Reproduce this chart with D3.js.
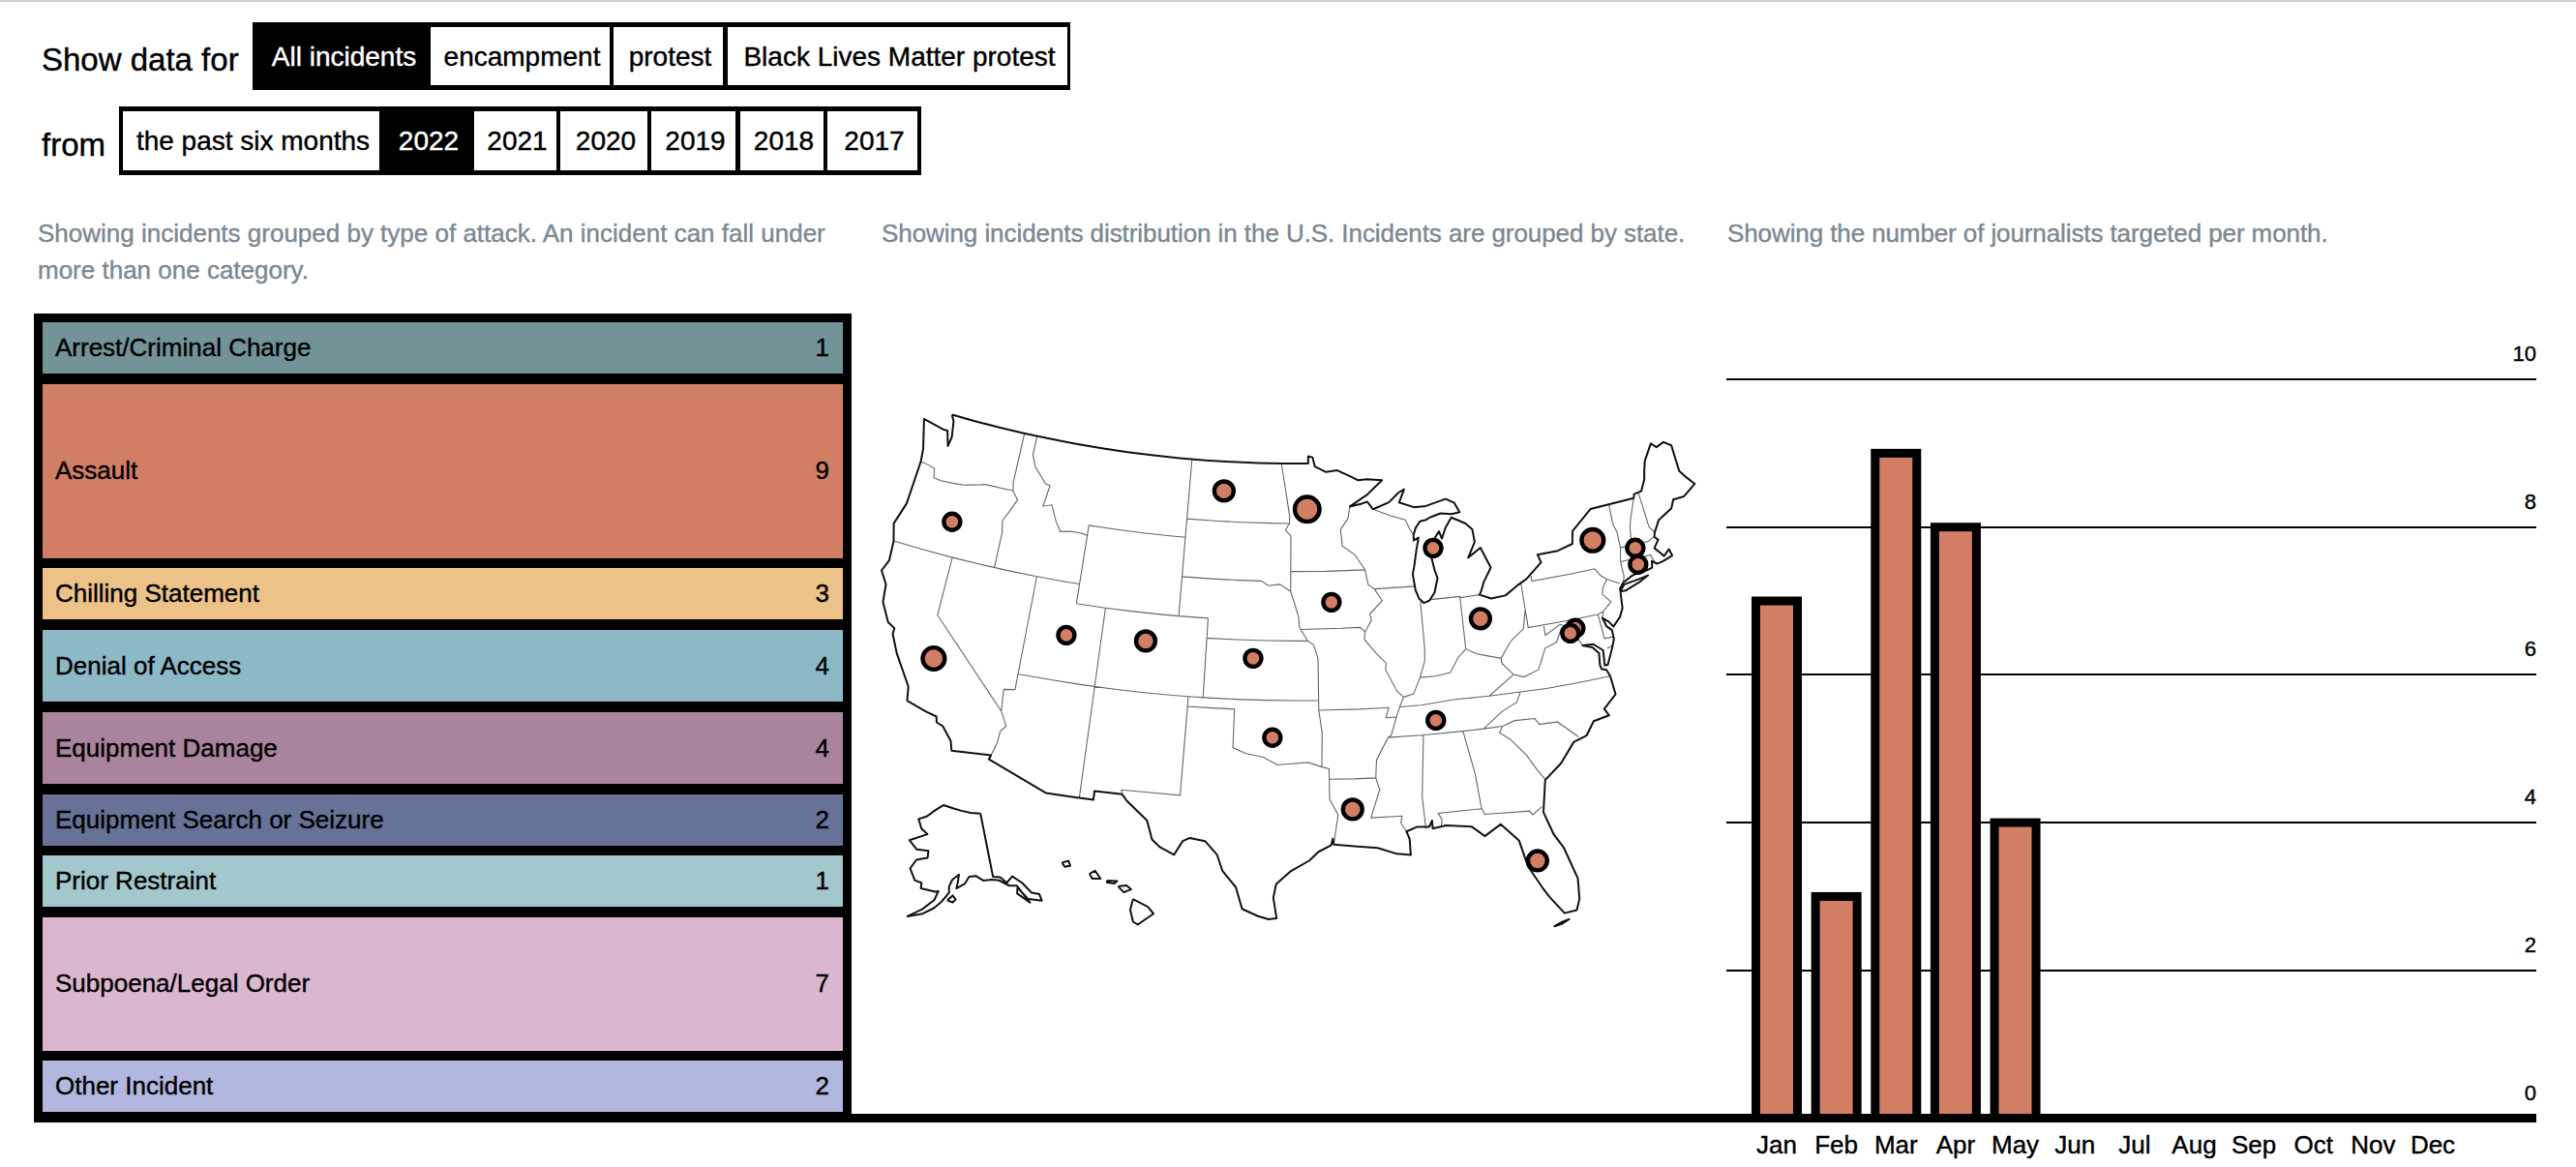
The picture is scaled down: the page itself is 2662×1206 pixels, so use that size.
<!DOCTYPE html>
<html>
<head>
<meta charset="utf-8">
<title>Incidents dashboard</title>
<script src="https://cdn.jsdelivr.net/npm/d3@7"></script>
<style>
  html, body { margin: 0; padding: 0; background: #fff; }
  svg { display: block; }
  text { font-family: "Liberation Sans", Helvetica, Arial, sans-serif; }
</style>
</head>
<body>
<svg id="page" width="2662" height="1206"></svg>
<script>
// Filter menus
const incidentFilters = ["All incidents", "encampment", "protest", "Black Lives Matter protest"];
const timeFilters = ["the past six months", "2022", "2021", "2020", "2019", "2018", "2017"];
const activeIncidentFilter = "All incidents";
const activeTimeFilter = "2022";

// Incidents by type of attack
const attackTypes = ["Arrest/Criminal Charge", "Assault", "Chilling Statement", "Denial of Access", "Equipment Damage", "Equipment Search or Seizure", "Prior Restraint", "Subpoena/Legal Order", "Other Incident"];
const attackCounts = [1, 9, 3, 4, 4, 2, 1, 7, 2];
const attackColors = ["#729498", "#d27e65", "#ecc288", "#8db8c6", "#aa849c", "#667297", "#a2c7cd", "#dbb7cf", "#b1b7df"];

// Journalists targeted per month
const months = ["Jan", "Feb", "Mar", "Apr", "May", "Jun", "Jul", "Aug", "Sep", "Oct", "Nov", "Dec"];
const monthlyCounts = [7, 3, 9, 8, 4, 0, 0, 0, 0, 0, 0, 0];
const countTicks = [0, 2, 4, 6, 8, 10];

// Incidents by state, as [longitude, latitude, incidents]
const statePoints = [
  [-120.65, 43.74, 1], [-119.54, 36.84, 3], [-111.38, 39.35, 1], [-106.1, 39.59, 2],
  [-98.91, 39.09, 1], [-101.47, 47.49, 2], [-95.26, 46.66, 4], [-93.64, 41.93, 1],
  [-86.29, 44.34, 1], [-83.6, 40.52, 2], [-75.05, 43.43, 3], [-72.28, 42.55, 1],
  [-72.37, 41.71, 1], [-77.45, 39.27, 1], [-77.83, 39.07, 1], [-97.55, 35.12, 1],
  [-92.68, 31.46, 2], [-87.23, 35.68, 1], [-82.16, 28.01, 2]
];

// National outline in longitude and latitude
const coastLines = [
  [[-122.76,49],[-121,49],[-119,49],[-117,49],[-115,49],[-113,49],[-111,49],[-109,49],[-107,49],[-105,49],[-103,49],[-101,49],[-99,49],[-97.2,49],[-95.15,49],[-95.15,49.38],[-94.82,49.32],[-94.64,48.84],[-93.8,48.55],[-92.95,48.62],[-92,48.3],[-91.4,48.07],[-90.75,48.1],[-89.6,48],[-90.8,47.3],[-92.1,46.75],[-91.2,46.87],[-90.8,46.95],[-90.4,46.55],[-89.2,46.85],[-88.45,47.3],[-88,47.45],[-88.45,46.8],[-87.4,46.5],[-86.5,46.5],[-85,46.75],[-84.4,46.5],[-84.1,46],[-84.7,45.95],[-85.5,46.05],[-86.3,45.9],[-86.6,45.8],[-87.05,45.75],[-87.4,45.45],[-87.6,45.1],[-87.62,44.82],[-87.26,44.94],[-87.5,44.3],[-87.75,43.5],[-87.9,43.12],[-87.8,42.3],[-87.6,41.85],[-87.3,41.62],[-86.9,41.72],[-86.5,42.1],[-86.2,42.8],[-86.35,43.25],[-86.5,44],[-86.25,44.7],[-85.75,45.15],[-85.6,44.77],[-85.25,45.3],[-84.75,45.78],[-83.8,45.4],[-83.35,45.05],[-83.3,44.4],[-83.9,43.65],[-82.95,44.07],[-82.42,43],[-83.05,42.32],[-83.3,41.9],[-83.45,41.72],[-82.7,41.45],[-81.7,41.5],[-80.8,41.9],[-80.1,42.15],[-78.9,42.85],[-79.05,43.27],[-77.6,43.27],[-76.5,43.47],[-76.3,44.1],[-74.7,45],[-73.35,45.01],[-71.5,45.01],[-71.4,45.2],[-70.85,45.25],[-70.4,45.8],[-70.25,46.2],[-70,46.7],[-69.23,47.46],[-68.9,47.2],[-68.3,47.35],[-67.8,47.07],[-67.8,45.7],[-67.45,45.3],[-67,44.85],[-68,44.4],[-68.8,44.4],[-69.1,44],[-70.2,43.6],[-70.7,43.05],[-70.8,42.85],[-70.6,42.65],[-71,42.3],[-70.65,41.95],[-70.5,41.78],[-70.05,42.05],[-69.95,41.7],[-70.65,41.55],[-71.1,41.5],[-71.4,41.7],[-71.5,41.37],[-71.85,41.32],[-72.9,41.25],[-73.65,41],[-73.95,40.75],[-74,40.45],[-74.1,39.75],[-74.4,39.35],[-74.95,38.95],[-75.2,39.25],[-75.55,39.5],[-75.4,39.05],[-75.1,38.8],[-75.1,38.35],[-75.35,37.9],[-75.85,37.14],[-76.05,37.14],[-75.95,37.9],[-76.5,38.3],[-77.2,38.35],[-76.6,38.15],[-76.25,37.8],[-76.35,37.2],[-76.3,37],[-76,36.9],[-75.85,36.55],[-75.76,35.6],[-76.65,35],[-76.43,34.63],[-77.45,34.5],[-78.05,33.85],[-78.9,33.65],[-79.9,32.7],[-81,32],[-81.4,30.4],[-81,29.2],[-80.55,28.45],[-80.05,26.8],[-80.15,25.75],[-80.4,25.2],[-81.1,25.15],[-81.8,26.1],[-82.1,26.6],[-82.75,27.8],[-83.05,29.15],[-84,30.1],[-85,29.6],[-85.7,30.15],[-87.2,30.35],[-88,30.25],[-88,30.65],[-88.2,30.35],[-88.9,30.4],[-89.55,30.2],[-89.4,29.8],[-89.4,29],[-90.2,29.1],[-91.3,29.45],[-92.3,29.55],[-93.85,29.7],[-93.9,30],[-94,29.68],[-94.75,29.35],[-95.3,28.9],[-96.4,28.35],[-97.2,27.7],[-97.35,27],[-97.15,25.95],[-97.6,25.9],[-98.2,26.05],[-99.1,26.4],[-99.5,27.5],[-100.3,28.3],[-100.65,29.1],[-101.4,29.77],[-102.3,29.88],[-102.7,29.7],[-103.15,28.97],[-104,29.3],[-104.5,29.65],[-104.9,30.6],[-106.2,31.47],[-106.53,31.78],[-108.2,31.78],[-108.2,31.33],[-109.5,31.33],[-111.07,31.33],[-114.8,32.5],[-114.72,32.72],[-117.12,32.53],[-117.3,33],[-118,33.65],[-118.4,33.75],[-118.5,34.03],[-119.2,34.15],[-120.5,34.45],[-120.65,35.15],[-121.9,36.6],[-122.5,37.5],[-122.5,37.8],[-123,38],[-123.7,38.9],[-123.85,39.8],[-124.4,40.4],[-124.1,41],[-124.2,42],[-124.55,42.85],[-124.1,44],[-124,46.25],[-124.1,46.9],[-124.7,48.38],[-123.1,48.15],[-122.75,48.15],[-122.4,47.4],[-122.3,47.9],[-122.5,48.7],[-122.76,49]],
  [[-74,40.6],[-73.6,40.58],[-72.5,40.85],[-71.9,41.05],[-72.6,40.98],[-73.6,40.9],[-74,40.6]],
  [[-81.8,24.55],[-81.3,24.72],[-80.9,24.8],[-81.35,24.62],[-81.8,24.55]],
  [[-141,69.65],[-145,70],[-149,70.5],[-152,70.85],[-156.5,71.35],[-160,70.5],[-163,69.5],[-166.2,68.9],[-164.5,67.6],[-162,66.9],[-164,66.5],[-168,65.6],[-165,64.5],[-161,64.5],[-161,63.5],[-164.5,63],[-166,61.6],[-164,60],[-162,59.8],[-162,59],[-158,58.7],[-157,58.8],[-158,57.5],[-161,56],[-164.5,54.7],[-161,55.3],[-158,56.3],[-156,57.3],[-154,58.6],[-154,59.5],[-153,60.5],[-151,61.2],[-151.5,60],[-151.9,59.2],[-149.5,59.8],[-148,60.8],[-146,60.8],[-144,60],[-141.5,59.9],[-139.5,59.6],[-137,58.5],[-135,58.2],[-133.5,56],[-130,55],[-130,56],[-131.8,56.6],[-133.4,58.4],[-135.5,59.7],[-137.5,59],[-139,60],[-141,60.3],[-141,69.65]],
  [[-154.5,57.5],[-153,57.2],[-152.2,57.6],[-153,58.2],[-154.5,57.5]],
  [[-135,57.9],[-133.5,56.3],[-133,55.3],[-135.5,57.1],[-135,57.9]],
  [[-155.9,20.25],[-155.1,19.85],[-154.8,19.5],[-155.65,18.95],[-155.9,19.1],[-156.05,19.7],[-155.9,20.25]],
  [[-156.7,20.9],[-156.25,20.95],[-156,20.75],[-156.4,20.6],[-156.7,20.9]],
  [[-157.3,21.2],[-156.75,21.18],[-156.9,21.05],[-157.3,21.1],[-157.3,21.2]],
  [[-158.25,21.55],[-157.95,21.7],[-157.65,21.3],[-158.1,21.3],[-158.25,21.55]],
  [[-159.75,22.1],[-159.4,22.2],[-159.3,21.95],[-159.6,21.9],[-159.75,22.1]]
];

// State lines in longitude and latitude
const stateLines = [
  [[-124,46.25],[-123.4,46.2],[-122.9,46.1],[-122.75,45.65],[-122.2,45.6],[-121.2,45.65],[-120.5,45.7],[-119.3,45.93],[-118.98,46],[-116.92,46]],
  [[-117.03,49],[-117.04,46.42],[-116.92,46],[-116.46,45.6],[-116.85,44.95],[-117.2,44.4],[-117.03,43.8],[-117.03,42]],
  [[-124.2,42],[-122,42],[-120,42],[-118,42],[-116,42],[-114.04,42],[-112,42],[-111.05,42]],
  [[-120,42],[-120,39],[-114.63,35],[-114.15,34.3],[-114.45,34],[-114.5,33.4],[-114.72,32.72]],
  [[-114.63,35],[-114.75,36.1],[-114.04,36.2],[-114.04,37],[-114.04,42]],
  [[-116.05,49],[-116.05,48],[-115.7,47.45],[-114.7,46.7],[-114.35,46.65],[-114.55,45.55],[-113.95,45.7],[-113.45,44.95],[-113,44.45],[-112.3,44.55],[-111.5,44.55],[-111.05,44.48],[-111.05,42],[-111.05,41]],
  [[-111.05,44.48],[-111.05,45],[-109,45],[-107,45],[-105,45],[-104.05,45]],
  [[-111.05,41],[-109.05,41],[-107,41],[-105,41],[-104.05,41],[-102.05,41]],
  [[-109.05,41],[-109.05,37],[-109.05,35],[-109.05,33],[-109.05,31.33]],
  [[-114.04,37],[-112,37],[-110,37],[-108,37],[-106,37],[-104,37],[-103,37],[-102,37],[-100,37],[-98,37],[-96,37],[-94.62,37]],
  [[-103,37],[-103,36.5],[-103.05,32],[-106.6,32],[-106.53,31.78]],
  [[-103,36.5],[-101.5,36.5],[-100,36.5],[-100,34.56],[-99.2,34.3],[-98.1,34.13],[-97.2,33.75],[-96.5,33.8],[-95.3,33.88],[-94.48,33.64],[-94.04,33.55],[-94.04,33.02],[-94.04,32],[-93.55,31.2],[-93.7,30.5],[-93.85,29.7]],
  [[-94.62,39.1],[-94.62,37],[-94.62,36.5],[-94.43,35.4],[-94.48,33.64]],
  [[-94.62,36.5],[-92,36.5],[-90.15,36.5],[-90.37,36],[-89.7,36],[-90.1,35.1],[-90.3,35],[-90.6,34.6],[-91.1,33.9],[-91.2,33],[-91,32.4],[-91.6,31],[-89.75,31],[-89.85,30.65],[-89.55,30.2]],
  [[-102.05,41],[-102.05,40],[-102.05,37]],
  [[-102.05,40],[-100,40],[-98,40],[-96,40],[-95.3,40],[-94.9,39.8],[-94.62,39.1]],
  [[-104.05,49],[-104.05,45.94],[-104.05,45],[-104.05,43],[-104.05,41]],
  [[-104.05,45.94],[-102,45.94],[-100,45.94],[-98,45.94],[-96.56,45.94]],
  [[-104.05,43],[-102,43],[-100,43],[-98.5,43],[-98,42.77],[-97.2,42.85],[-96.45,42.49]],
  [[-97.2,49],[-96.85,47.6],[-96.55,46.3],[-96.56,45.94],[-96.85,45.6],[-96.45,45.3],[-96.45,43.5],[-96.45,42.49],[-96.1,41.7],[-95.9,41.2],[-95.85,40.7],[-95.3,40]],
  [[-96.45,43.5],[-94,43.5],[-91.22,43.5]],
  [[-95.77,40.58],[-93,40.6],[-91.73,40.61],[-91.42,40.38]],
  [[-92.1,46.75],[-92.3,46.1],[-92.85,45.6],[-92.75,44.75],[-91.9,44.3],[-91.22,43.5],[-91.05,42.75],[-90.64,42.51],[-90.15,41.9],[-91.05,41.25],[-90.95,40.95],[-91.42,40.38],[-91.5,40],[-90.75,39.25],[-90.15,38.75],[-90.2,38.4],[-89.55,37.3],[-89.15,36.98],[-89.45,36.5],[-89.7,36]],
  [[-90.64,42.51],[-87.8,42.5]],
  [[-90.4,46.55],[-89.1,46.15],[-88.1,45.9],[-87.8,45.35],[-87.6,45.1]],
  [[-87.53,41.7],[-87.53,39.35],[-87.6,38.7],[-88,37.9],[-88.5,37.1],[-89.15,36.98]],
  [[-86.82,41.76],[-84.8,41.76],[-84.8,41.7],[-83.45,41.72]],
  [[-84.8,41.7],[-84.82,39.1]],
  [[-88,37.9],[-87,37.9],[-86,38],[-85.4,38.7],[-84.82,39.1],[-84.2,38.8],[-83.6,38.65],[-82.6,38.4],[-82,39],[-81.7,39.25],[-80.85,39.7],[-80.52,40.64],[-80.52,42]],
  [[-79.76,42.27],[-79.76,42],[-77,42],[-75.35,42],[-75.05,41.6],[-74.7,41.36],[-73.9,41]],
  [[-74.7,41.36],[-75.1,40.95],[-75.2,40.65],[-74.75,40.2],[-75.4,39.8],[-75.55,39.5]],
  [[-80.52,40.64],[-80.52,39.72],[-78,39.72],[-75.79,39.72],[-75.42,39.8]],
  [[-79.48,39.72],[-79.48,39.2],[-78.4,39.6],[-77.72,39.32],[-77.2,38.35]],
  [[-77.72,39.32],[-78.35,39.4],[-78.85,38.75],[-79.65,38.55],[-80.3,37.55],[-81.3,37.3],[-81.95,37.5],[-82.6,38.15],[-82.6,38.4]],
  [[-81.95,37.5],[-83.68,36.6],[-86,36.63],[-88.05,36.5],[-89.45,36.5]],
  [[-75.87,36.55],[-78,36.55],[-80,36.55],[-81.68,36.59],[-83.68,36.6]],
  [[-75.79,39.72],[-75.7,38.46],[-75.05,38.45]],
  [[-75.65,37.95],[-75.25,38.03]],
  [[-90.3,35],[-88.2,35],[-85.6,35],[-84.3,35],[-83.1,35]],
  [[-81.68,36.59],[-82,36.1],[-83,35.75],[-84.3,35]],
  [[-94.04,33.02],[-92.5,33],[-91.2,33]],
  [[-83.1,35],[-82.3,35.2],[-81.05,35.15],[-80.8,34.82],[-79.68,34.8],[-78.55,33.86]],
  [[-83.1,35],[-83.35,34.7],[-82.75,34.3],[-81.9,33.4],[-81.4,32.6],[-81,32.05]],
  [[-88.2,35],[-88.1,34.9],[-88.47,31.9],[-88.4,30.25]],
  [[-85.6,35],[-85.15,32.8],[-85.05,31.55],[-85,31]],
  [[-85,31],[-87.6,31],[-87.4,30.65],[-87.5,30.3]],
  [[-85,31],[-84.85,30.7],[-82.2,30.57],[-82.05,30.36],[-81.45,30.7]],
  [[-73.35,45.01],[-73.4,44],[-73.25,43.55],[-73.28,42.75],[-73.5,42.05],[-73.5,41.3],[-73.65,41]],
  [[-73.28,42.75],[-72.46,42.73],[-71.3,42.7],[-70.8,42.87]],
  [[-72.46,42.73],[-72.3,43.6],[-72.05,44.1],[-71.5,45.01]],
  [[-71.08,45.3],[-70.98,43.4],[-70.7,43.07]],
  [[-73.5,42.05],[-71.8,42.02],[-71.38,42.02],[-71.2,41.5]],
  [[-71.8,42.02],[-71.85,41.32]]
];

// Captions above the three panels
const captions = [
  ["Showing incidents grouped by type of attack. An incident can fall under", "more than one category."],
  ["Showing incidents distribution in the U.S. Incidents are grouped by state."],
  ["Showing the number of journalists targeted per month."]
];

const INK = "#000";
const svg = d3.select("#page");

// Rule along the top of the page
svg.append("rect").attr("width", 2662).attr("height", 2).attr("fill", "#cfcfcf");

// Filter menus: a black frame with white cells; the active cell stays black
function drawMenu(title, titleBaseline, options, active, frame, edges, baseline) {
  svg.append("text").attr("x", 43).attr("y", titleBaseline)
    .attr("font-size", 33).attr("fill", INK).text(title);
  svg.append("rect")
    .attr("x", frame[0]).attr("y", frame[1])
    .attr("width", frame[2] - frame[0]).attr("height", frame[3] - frame[1])
    .attr("fill", INK);
  const cells = svg.append("g").selectAll("g").data(options).join("g");
  cells.filter(d => d !== active).append("rect")
    .attr("x", d => edges[options.indexOf(d)][0])
    .attr("width", d => edges[options.indexOf(d)][1] - edges[options.indexOf(d)][0])
    .attr("y", frame[1] + 5).attr("height", frame[3] - frame[1] - 10)
    .attr("fill", "#fff");
  cells.append("text")
    .attr("x", (d, i) => (edges[i][0] + edges[i][1]) / 2 + (d === active && i === 0 ? 0 : 2))
    .attr("y", baseline)
    .attr("text-anchor", "middle")
    .attr("font-size", 28)
    .attr("fill", d => d === active ? "#fff" : INK)
    .text(d => d);
}
drawMenu("Show data for", 73, incidentFilters, activeIncidentFilter,
  [261, 23, 1106, 93], [[266, 445], [445, 630], [634, 747], [752, 1103]], 68);
drawMenu("from", 161, timeFilters, activeTimeFilter,
  [123, 110, 952, 181], [[127, 392], [392, 490], [490, 575], [579, 669], [673, 760], [765, 851], [855, 948]], 155);

// Captions
const captionX = [39, 911, 1785];
const captionTracking = [0, -0.07, -0.1];
captions.forEach((lines, c) => {
  svg.append("g").selectAll("text").data(lines).join("text")
    .attr("x", captionX[c])
    .attr("y", (d, i) => 250 + i * 38)
    .attr("font-size", 26).attr("fill", "#7b8994")
    .attr("letter-spacing", captionTracking[c])
    .text(d => d);
});

// Attack-type stack: row height follows the count, with a floor for small rows
const rowHeight = d3.scaleLinear().domain([4, 9]).range([74.5, 180]);
const rowFloor = 53, rowGap = 10.5;
svg.append("rect").attr("x", 35).attr("y", 324).attr("width", 845).attr("height", 836).attr("fill", INK);
let rowTop = 333;
const rows = attackTypes.map((name, i) => {
  const h = Math.max(rowFloor, rowHeight(attackCounts[i]));
  const row = { name, count: attackCounts[i], color: attackColors[i], y: rowTop, h };
  rowTop += h + rowGap;
  return row;
});
const rowGroups = svg.append("g").selectAll("g").data(rows).join("g")
  .attr("transform", d => `translate(44,${d.y})`);
rowGroups.append("rect").attr("width", 827).attr("height", d => d.h)
  .attr("fill", d => d.color).attr("shape-rendering", "crispEdges");
rowGroups.append("text").attr("x", 13).attr("y", d => d.h / 2 + 8.5)
  .attr("font-size", 26).attr("fill", INK).text(d => d.name);
rowGroups.append("text").attr("x", 813).attr("y", d => d.h / 2 + 8.5)
  .attr("text-anchor", "end").attr("font-size", 26).attr("fill", INK).text(d => d.count);

// Map
const projection = d3.geoAlbersUsa().scale(1165).translate([1331, 689]);
const geoPath = d3.geoPath(projection);
svg.append("path")
  .datum({ type: "MultiLineString", coordinates: stateLines })
  .attr("d", geoPath).attr("fill", "none").attr("stroke", "#666").attr("stroke-width", 1.1);
svg.append("path")
  .datum({ type: "MultiLineString", coordinates: coastLines })
  .attr("d", geoPath).attr("fill", "none").attr("stroke", "#111").attr("stroke-width", 2)
  .attr("stroke-linejoin", "round");

const dotRadius = d3.scaleLinear().domain([1, 4]).range([8.5, 12.8]);
svg.append("g").selectAll("circle").data(statePoints).join("circle")
  .attr("cx", d => projection(d)[0])
  .attr("cy", d => projection(d)[1])
  .attr("r", d => dotRadius(d[2]))
  .attr("fill", "#d27e65").attr("stroke", INK).attr("stroke-width", 4.4);

// Monthly bars
const xMonth = d3.scalePoint().domain(months).range([1836, 2514]);
const yCount = d3.scaleLinear().domain([0, 10]).range([1155.5, 392]);

const yAxis = svg.append("g").attr("transform", "translate(2621,0)")
  .call(d3.axisRight(yCount).tickValues(countTicks).tickSize(-837).offset(0));
yAxis.select(".domain").remove();
yAxis.selectAll("line").attr("stroke", INK).attr("stroke-width", 2).attr("shape-rendering", "crispEdges");
yAxis.selectAll("text")
  .attr("x", 0).attr("dy", -19).attr("text-anchor", "end")
  .attr("font-size", 22).attr("font-family", null).attr("fill", INK);

svg.append("g").selectAll("rect").data(months.map((m, i) => ({ m, v: monthlyCounts[i] })).filter(d => d.v > 0)).join("rect")
  .attr("x", d => xMonth(d.m) - 21.5)
  .attr("width", 43)
  .attr("y", d => yCount(d.v))
  .attr("height", d => yCount(0) - yCount(d.v))
  .attr("fill", "#d27e65").attr("stroke", INK).attr("stroke-width", 9);

// Baseline joins the stack and the bars
svg.append("line").attr("x1", 880).attr("x2", 2621)
  .attr("y1", yCount(0)).attr("y2", yCount(0))
  .attr("stroke", INK).attr("stroke-width", 9);

const xAxis = svg.append("g").attr("transform", "translate(0,1160)")
  .call(d3.axisBottom(xMonth).tickSize(0).offset(0));
xAxis.select(".domain").remove();
xAxis.selectAll("text")
  .attr("y", 32).attr("dy", 0)
  .attr("font-size", 26).attr("font-family", null).attr("fill", INK);

// A hairline outline thickens the glyphs to the reading weight used across the page
svg.selectAll("text").each(function () {
  const t = d3.select(this);
  t.attr("stroke", t.attr("fill")).attr("stroke-width", 0.4);
});
</script>
</body>
</html>
